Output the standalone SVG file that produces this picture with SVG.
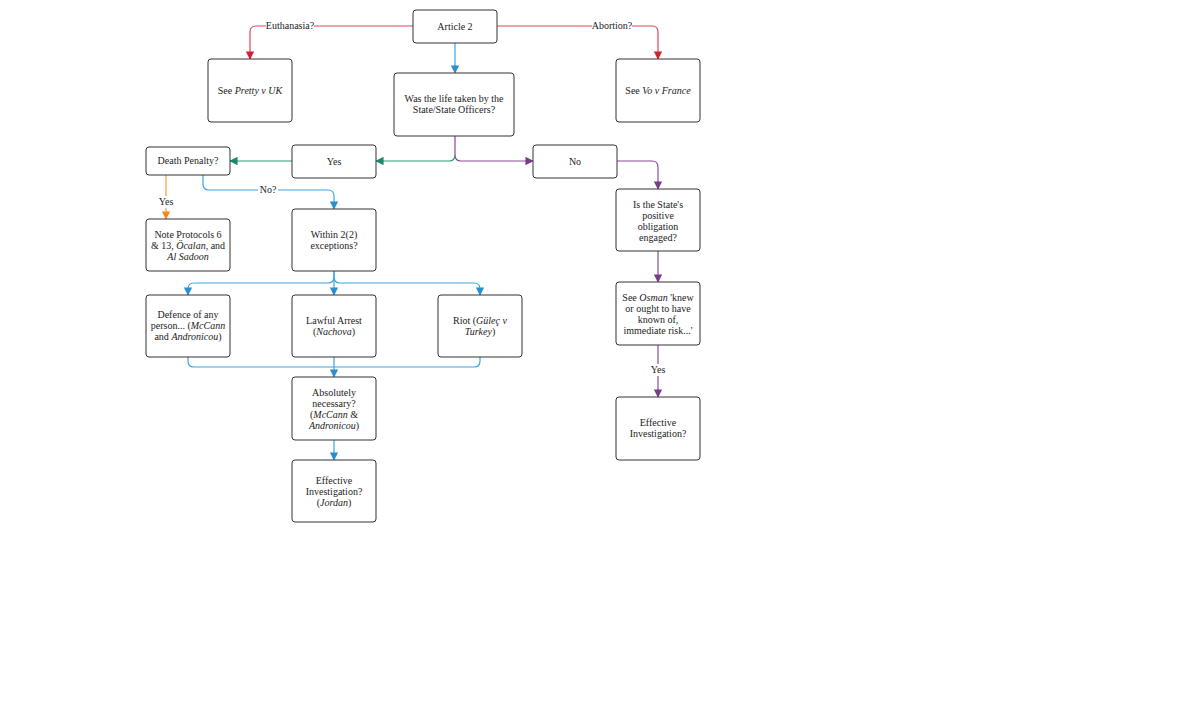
<svg xmlns="http://www.w3.org/2000/svg" width="1200" height="710" viewBox="0 0 1200 710">
<style>
.n rect{fill:#fff;stroke:#333;stroke-width:1}
text{font-family:"Liberation Serif","DejaVu Serif",serif;font-size:10px;fill:#222;text-anchor:middle}
.l{fill:#fff}
.c path{fill:none;stroke-width:1.2}
.r{stroke:#e0455a}.b{stroke:#3aa6e0}.t{stroke:#2a9d7a}.p{stroke:#8a4a9a}.o{stroke:#f0a040}
</style>
<defs>
<marker id="mr" viewBox="0 0 10 10" refX="9" refY="5" markerWidth="7" markerHeight="7" orient="auto"><path d="M0,0L10,5L0,10z" fill="#d02030"/></marker>
<marker id="mb" viewBox="0 0 10 10" refX="9" refY="5" markerWidth="7" markerHeight="7" orient="auto"><path d="M0,0L10,5L0,10z" fill="#2a8fd0"/></marker>
<marker id="mt" viewBox="0 0 10 10" refX="9" refY="5" markerWidth="7" markerHeight="7" orient="auto"><path d="M0,0L10,5L0,10z" fill="#1a8a6a"/></marker>
<marker id="mp" viewBox="0 0 10 10" refX="9" refY="5" markerWidth="7" markerHeight="7" orient="auto"><path d="M0,0L10,5L0,10z" fill="#7a3a8a"/></marker>
<marker id="mo" viewBox="0 0 10 10" refX="9" refY="5" markerWidth="7" markerHeight="7" orient="auto"><path d="M0,0L10,5L0,10z" fill="#f08a20"/></marker>
</defs>
<g class="c" id="connectors">
<path class="r" d="M413,26H256Q250,26 250,32V59" marker-end="url(#mr)"/>
<path class="r" d="M497,26H652Q658,26 658,32V59" marker-end="url(#mr)"/>
<path class="b" d="M455,43V73" marker-end="url(#mb)"/>
<path class="p" d="M455,136V155Q455,161 461,161H533" marker-end="url(#mp)"/>
<path class="t" d="M455,155Q455,161 449,161H376" marker-end="url(#mt)"/>
<path class="t" d="M292,161H230" marker-end="url(#mt)"/>
<path class="o" d="M166,175V219" marker-end="url(#mo)"/>
<path class="b" d="M203,175V184Q203,190 209,190H328Q334,190 334,196V209" marker-end="url(#mb)"/>
<path class="b" d="M334,271V277Q334,283 328,283H194Q188,283 188,289V295" marker-end="url(#mb)"/>
<path class="b" d="M334,271V295" marker-end="url(#mb)"/>
<path class="b" d="M334,277Q334,283 340,283H474Q480,283 480,289V295" marker-end="url(#mb)"/>
<path class="b" d="M188,357V361Q188,367 194,367H474Q480,367 480,361V357"/>
<path class="b" d="M334,357V377" marker-end="url(#mb)"/>
<path class="b" d="M334,440V460" marker-end="url(#mb)"/>
<path class="p" d="M617,161H652Q658,161 658,167V189" marker-end="url(#mp)"/>
<path class="p" d="M658,251V282" marker-end="url(#mp)"/>
<path class="p" d="M658,345V397" marker-end="url(#mp)"/>
<rect class="l" x="266" y="20" width="48" height="12"/><text x="290" y="29">Euthanasia?</text>
<rect class="l" x="592" y="20" width="40" height="12"/><text x="612" y="29">Abortion?</text>
<rect class="l" x="156" y="196" width="20" height="12"/><text x="166" y="205">Yes</text>
<rect class="l" x="258" y="184" width="20" height="12"/><text x="268" y="193">No?</text>
<rect class="l" x="648" y="364" width="20" height="12"/><text x="658" y="373">Yes</text>
</g>
<g class="n" id="article2"><rect x="413" y="10" width="84" height="33" rx="3"/><text x="455" y="30">Article 2</text></g>
<g class="n" id="pretty"><rect x="208" y="59" width="84" height="63" rx="3"/><text x="250" y="94">See <tspan font-style="italic">Pretty v UK</tspan></text></g>
<g class="n" id="vo"><rect x="616" y="59" width="84" height="63" rx="3"/><text x="658" y="94">See <tspan font-style="italic">Vo v France</tspan></text></g>
<g class="n" id="was"><rect x="394" y="73" width="120" height="63" rx="3"/><text x="454" y="102">Was the life taken by the</text><text x="454" y="113">State/State Officers?</text></g>
<g class="n" id="death"><rect x="146" y="147" width="84" height="28" rx="3"/><text x="188" y="164">Death Penalty?</text></g>
<g class="n" id="yes"><rect x="292" y="145" width="84" height="33" rx="3"/><text x="334" y="165">Yes</text></g>
<g class="n" id="no"><rect x="533" y="145" width="84" height="33" rx="3"/><text x="575" y="165">No</text></g>
<g class="n" id="note"><rect x="146" y="219" width="84" height="52" rx="3"/><text x="188" y="238">Note Protocols 6</text><text x="188" y="249">&amp; 13, <tspan font-style="italic">Öcalan</tspan>, and</text><text x="188" y="260" font-style="italic">Al Sadoon</text></g>
<g class="n" id="within"><rect x="292" y="209" width="84" height="62" rx="3"/><text x="334" y="238">Within 2(2)</text><text x="334" y="249">exceptions?</text></g>
<g class="n" id="defence"><rect x="146" y="295" width="84" height="62" rx="3"/><text x="188" y="318">Defence of any</text><text x="188" y="329">person... (<tspan font-style="italic">McCann</tspan></text><text x="188" y="340">and <tspan font-style="italic">Andronicou</tspan>)</text></g>
<g class="n" id="lawful"><rect x="292" y="295" width="84" height="62" rx="3"/><text x="334" y="324">Lawful Arrest</text><text x="334" y="335">(<tspan font-style="italic">Nachova</tspan>)</text></g>
<g class="n" id="riot"><rect x="438" y="295" width="84" height="62" rx="3"/><text x="480" y="324">Riot (<tspan font-style="italic">Güleç v</tspan></text><text x="480" y="335" font-style="italic">Turkey<tspan font-style="normal">)</tspan></text></g>
<g class="n" id="absolutely"><rect x="292" y="377" width="84" height="63" rx="3"/><text x="334" y="396">Absolutely</text><text x="334" y="407">necessary?</text><text x="334" y="418">(<tspan font-style="italic">McCann</tspan> &amp;</text><text x="334" y="429" font-style="italic">Andronicou<tspan font-style="normal">)</tspan></text></g>
<g class="n" id="effective1"><rect x="292" y="460" width="84" height="62" rx="3"/><text x="334" y="484">Effective</text><text x="334" y="495">Investigation?</text><text x="334" y="506">(<tspan font-style="italic">Jordan</tspan>)</text></g>
<g class="n" id="state"><rect x="616" y="189" width="84" height="62" rx="3"/><text x="658" y="208">Is the State's</text><text x="658" y="219">positive</text><text x="658" y="230">obligation</text><text x="658" y="241">engaged?</text></g>
<g class="n" id="osman"><rect x="616" y="282" width="84" height="63" rx="3"/><text x="658" y="301">See <tspan font-style="italic">Osman</tspan> 'knew</text><text x="658" y="312">or ought to have</text><text x="658" y="323">known of,</text><text x="658" y="334">immediate risk...'</text></g>
<g class="n" id="effective2"><rect x="616" y="397" width="84" height="63" rx="3"/><text x="658" y="426">Effective</text><text x="658" y="437">Investigation?</text></g>
</svg>
